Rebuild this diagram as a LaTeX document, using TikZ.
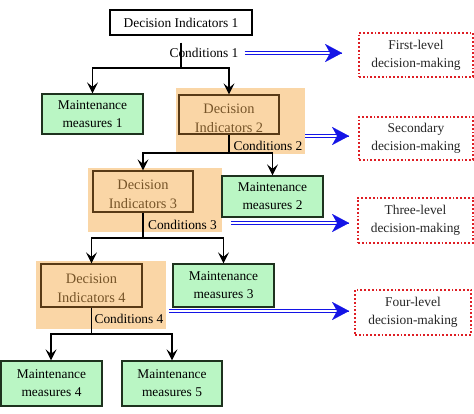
\documentclass[tikz,border=0pt]{standalone}
\usepackage{fontspec}
\setmainfont{Liberation Serif}
\usetikzlibrary{arrows.meta}
\definecolor{mmgreen}{RGB}{186,246,196}
\definecolor{mmborder}{RGB}{30,50,30}
\definecolor{peach}{RGB}{250,214,166}
\definecolor{brownb}{RGB}{88,58,22}
\definecolor{brownt}{RGB}{118,84,40}
\definecolor{dotred}{RGB}{222,30,36}
\definecolor{arrblue}{RGB}{20,20,230}
\tikzset{
  txt/.style={font=\fontsize{13.4}{18}\selectfont, align=center, inner sep=0pt},
  ditxt/.style={font=\fontsize{14.4}{19}\selectfont, align=center, inner sep=0pt, text=brownt},
  whitebox/.style={draw=black, line width=1.2pt, fill=white, minimum width=142pt, minimum height=25pt, inner sep=0pt, font=\fontsize{13.4}{18}\selectfont},
  mmbox/.style={draw=mmborder, line width=1.3pt, fill=mmgreen, inner sep=0pt, align=center, font=\fontsize{13.4}{18}\selectfont},
  dibox/.style={draw=brownb, line width=1.3pt, inner sep=0pt},
  bgbox/.style={fill=peach, draw=none, inner sep=0pt},
  levelbox/.style={draw=dotred, dotted, line width=1.8pt, fill=white, inner sep=0pt, align=center, font=\fontsize{13.4}{18}\selectfont, text=black!85},
  conn/.style={draw=black, line width=1.4pt},
  arr/.style={conn, -{Stealth[length=11pt,width=11pt,inset=4.5pt]}},
  shaft/.style={draw=arrblue, line width=1.1pt, double=white, double distance=1.6pt},
  bhead/.style={draw=arrblue, line width=0.1pt, -{Stealth[length=17pt,width=18pt,inset=5pt,fill=arrblue]}},
}
\begin{document}
\begin{tikzpicture}[x=1pt,y=-1pt]
\useasboundingbox (0,0) rectangle (474,413);
% backgrounds
\node[bgbox, minimum width=129pt, minimum height=66pt] (bg2) at (240.5,121) {};
\node[bgbox, minimum width=134pt, minimum height=64pt] (bg3) at (155,200) {};
\node[bgbox, minimum width=130pt, minimum height=68pt] (bg4) at (101,295) {};
% top
\node[whitebox] (di1) at (181,22.5) {Decision Indicators 1};
\node[txt] (c1) at (204,53) {Conditions 1};
\node[levelbox, minimum width=114pt, minimum height=44pt] (l1) at (416,55) {First-level\\decision-making};
\node[mmbox, minimum width=101pt, minimum height=40pt] (mm1) at (92.5,114) {Maintenance\\measures 1};
% level 2
\node[dibox, minimum width=100pt, minimum height=39pt] (di2) at (229,114.5) {};
\node[ditxt] (di2t) at (229,118.5) {Decision\\Indicators 2};
\node[txt] (c2) at (268,146) {Conditions 2};
\node[levelbox, minimum width=114pt, minimum height=43pt] (l2) at (416,138.5) {Secondary\\decision-making};
% level 3
\node[dibox, minimum width=100pt, minimum height=41pt] (di3) at (143,191.5) {};
\node[ditxt] (di3t) at (143,194) {Decision\\Indicators 3};
\node[mmbox, minimum width=101pt, minimum height=41pt] (mm2) at (272.5,196.5) {Maintenance\\measures 2};
\node[txt] (c3) at (182.5,225) {Conditions 3};
\node[levelbox, minimum width=115pt, minimum height=45pt] (l3) at (415.5,220.5) {Three-level\\decision-making};
% level 4
\node[dibox, minimum width=101pt, minimum height=43pt] (di4) at (91.5,285.5) {};
\node[ditxt] (di4t) at (91.5,288.5) {Decision\\Indicators 4};
\node[mmbox, minimum width=101pt, minimum height=43pt] (mm3) at (223.5,285.5) {Maintenance\\measures 3};
\node[txt] (c4) at (129,319) {Conditions 4};
\node[levelbox, minimum width=116pt, minimum height=45pt] (l4) at (413,312.5) {Four-level\\decision-making};
\node[mmbox, minimum width=101pt, minimum height=45pt] (mm4) at (51.5,383.5) {Maintenance\\measures 4};
\node[mmbox, minimum width=100pt, minimum height=45pt] (mm5) at (172,383.5) {Maintenance\\measures 5};
% tree connectors
\coordinate (j1) at (di1.south |- 0,68);
\draw[conn] ([yshift=-7pt]di1.south) -- (j1);
\draw[arr] (j1) -| (mm1.north);
\draw[arr] (j1) -| (di2.north);
\coordinate (j2) at (di2.south |- 0,153);
\draw[conn] (di2.south) -- (j2);
\draw[arr] (j2) -| (di3.north);
\draw[arr] (j2) -| (mm2.north);
\coordinate (j3) at (di3.south |- 0,238);
\draw[conn] (di3.south) -- (j3);
\draw[arr] (j3) -| (di4.north);
\draw[arr] (j3) -| (mm3.north);
\coordinate (j4) at (di4.south |- 0,334);
\draw[conn] (di4.south) -- (j4);
\draw[arr] (j4) -| ([xshift=-0.5pt]mm4.north);
\draw[arr] (j4) -| (mm5.north);
% blue double arrows
\coordinate (s1) at ([xshift=6pt]c1.east);
\coordinate (e1) at ([xshift=-16pt]l1.west |- c1);
\draw[shaft] (s1) -- ([xshift=-12pt]e1);
\draw[bhead] ([xshift=-0.1pt]e1) -- (e1);
\coordinate (s2) at (bg2.east |- 0,136);
\coordinate (e2) at ([xshift=-9pt]l2.west |- s2);
\draw[shaft] (s2) -- ([xshift=-12pt]e2);
\draw[bhead] ([xshift=-0.1pt]e2) -- (e2);
\coordinate (s3) at ([xshift=9pt]bg3.east |- 0,223);
\coordinate (e3) at ([xshift=-8pt]l3.west |- s3);
\draw[shaft] (s3) -- ([xshift=-12pt]e3);
\draw[bhead] ([xshift=-0.1pt]e3) -- (e3);
\coordinate (s4) at ([xshift=3pt]bg4.east |- 0,311);
\coordinate (e4) at ([xshift=-5pt]l4.west |- s4);
\draw[shaft] (s4) -- ([xshift=-12pt]e4);
\draw[bhead] ([xshift=-0.1pt]e4) -- (e4);
\end{tikzpicture}
\end{document}
